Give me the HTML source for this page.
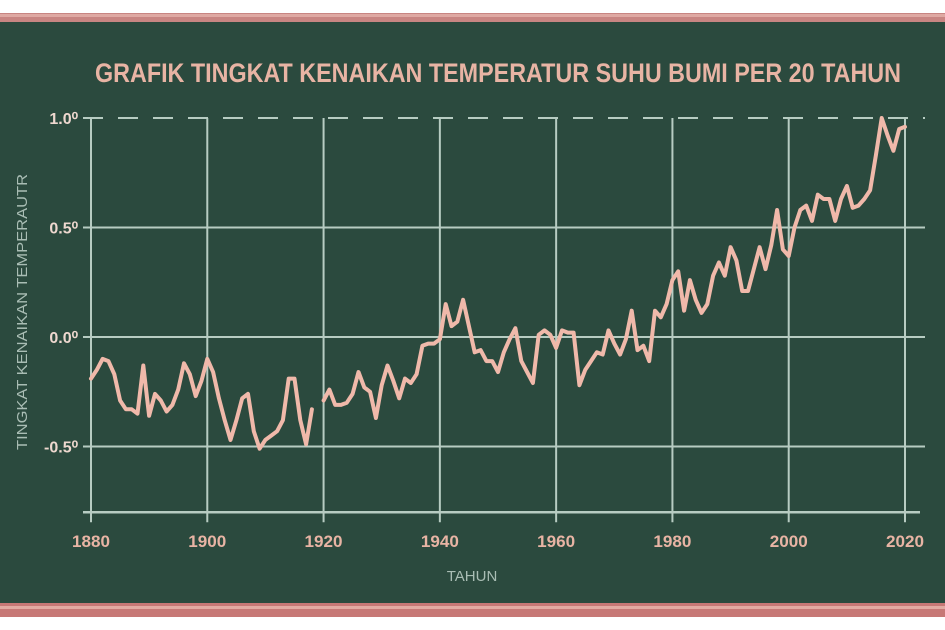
<!DOCTYPE html>
<html><head><meta charset="utf-8"><style>
html,body{margin:0;padding:0;background:#fff;width:945px;height:630px;overflow:hidden}
svg{display:block}
</style></head><body>
<svg id="chart" width="945" height="630" viewBox="0 0 945 630" xmlns="http://www.w3.org/2000/svg">
<rect x="0" y="13" width="945" height="10" fill="#c88582"/>
<rect x="0" y="14" width="945" height="3" fill="#dfa9a3"/>
<rect x="0" y="22" width="945" height="582" fill="#2b4a3e"/>
<rect x="0" y="603" width="945" height="14" fill="#c77876"/>
<rect x="0" y="606" width="945" height="3" fill="#e2aaa2"/>
<text x="498" y="82" text-anchor="middle" font-family="'Liberation Sans',sans-serif" font-weight="bold" font-size="27" fill="#e8b4a4" textLength="806" lengthAdjust="spacingAndGlyphs">GRAFIK TINGKAT KENAIKAN TEMPERATUR SUHU BUMI PER 20 TAHUN</text>
<g id="grid"></g>
<g id="labels"></g>
<path id="line" fill="none" stroke="#f0b9aa" stroke-width="4" stroke-linejoin="round" stroke-linecap="round"/>
<text transform="translate(27,312) rotate(-90)" text-anchor="middle" font-family="'Liberation Sans',sans-serif" font-size="15" fill="#a9bdb4" textLength="276" lengthAdjust="spacingAndGlyphs">TINGKAT KENAIKAN TEMPERAUTR</text>
<text x="472" y="581" text-anchor="middle" font-family="'Liberation Sans',sans-serif" font-size="15" fill="#a9bdb4">TAHUN</text>
</svg>
<script>
const xTicks = [1880,1900,1920,1940,1960,1980,2000,2020];
const yTicks = [-0.5,0.0,0.5,1.0];
const yTickLabels = ["-0.5⁰","0.0⁰","0.5⁰","1.0⁰"];
const startYear = 1880;
const temps = [-0.19,-0.15,-0.10,-0.11,-0.17,-0.29,-0.33,-0.33,-0.35,-0.13,
-0.36,-0.26,-0.29,-0.34,-0.31,-0.24,-0.12,-0.17,-0.27,-0.20,
-0.10,-0.16,-0.28,-0.38,-0.47,-0.38,-0.28,-0.26,-0.43,-0.51,
-0.47,-0.45,-0.43,-0.38,-0.19,-0.19,-0.38,-0.49,-0.33,null,
-0.29,-0.24,-0.31,-0.31,-0.30,-0.26,-0.16,-0.23,-0.25,-0.37,
-0.22,-0.13,-0.20,-0.28,-0.19,-0.21,-0.17,-0.04,-0.03,-0.03,
-0.01,0.15,0.05,0.07,0.17,0.05,-0.07,-0.06,-0.11,-0.11,
-0.16,-0.07,-0.01,0.04,-0.11,-0.16,-0.21,0.01,0.03,0.01,
-0.05,0.03,0.02,0.02,-0.22,-0.15,-0.11,-0.07,-0.08,0.03,
-0.03,-0.08,-0.01,0.12,-0.06,-0.04,-0.11,0.12,0.09,0.15,
0.26,0.30,0.12,0.26,0.17,0.11,0.15,0.28,0.34,0.28,
0.41,0.35,0.21,0.21,0.31,0.41,0.31,0.42,0.58,0.40,
0.37,0.50,0.58,0.60,0.53,0.65,0.63,0.63,0.53,0.63,
0.69,0.59,0.60,0.63,0.67,0.83,1.00,0.92,0.85,0.95,0.96];

const X = yr => 91 + (yr - 1880) * (905 - 91) / 140;
const Y = v => 337 - v * 219;
const NS = "http://www.w3.org/2000/svg";
const grid = document.getElementById('grid');
const labels = document.getElementById('labels');
function mk(tag, attrs, parent){const e=document.createElementNS(NS,tag);for(const k in attrs)e.setAttribute(k,attrs[k]);parent.appendChild(e);return e;}
const gc = "#b7ccc2";
const yBottom = Y(-0.8);
xTicks.forEach(t=>{
  const l = mk('line',{x1:X(t),x2:X(t),y1:Y(1.0),y2:yBottom+10,stroke:gc,'stroke-width':2},grid);
  
  
  const tx = mk('text',{x:X(t),y:547,'text-anchor':'middle','font-family':"'Liberation Sans',sans-serif",'font-weight':'bold','font-size':'17',fill:'#e8b4a4',textLength:'38',lengthAdjust:'spacingAndGlyphs'},labels);
  tx.textContent = t;
  
  
});
yTicks.forEach((t,i)=>{
  const attrs = {x1:X(1880)-8,x2:X(2020)+20,y1:Y(t),y2:Y(t),stroke:gc,'stroke-width':2};
  if(t===1.0) attrs['stroke-dasharray']='20 15';
  const l = mk('line',attrs,grid);
  
  
  const tx = mk('text',{x:X(1880)-13,y:Y(t)+6,'text-anchor':'end','font-family':"'Liberation Sans',sans-serif",'font-weight':'bold','font-size':'16',fill:'#eed8cf'},labels);
  tx.textContent = yTickLabels[i];
  
  
});
const ax = mk('line',{x1:X(1880)-8,x2:X(2020)+15,y1:yBottom,y2:yBottom,stroke:gc,'stroke-width':2.5},grid);


let d = "", pen = false;
temps.forEach((v,i)=>{
  if(v===null){pen=false;return;}
  d += (pen?"L":"M") + X(startYear+i).toFixed(1) + "," + Y(v).toFixed(1) + " ";
  pen = true;
});
document.getElementById('line').setAttribute('d', d);
</script>
</body></html>
